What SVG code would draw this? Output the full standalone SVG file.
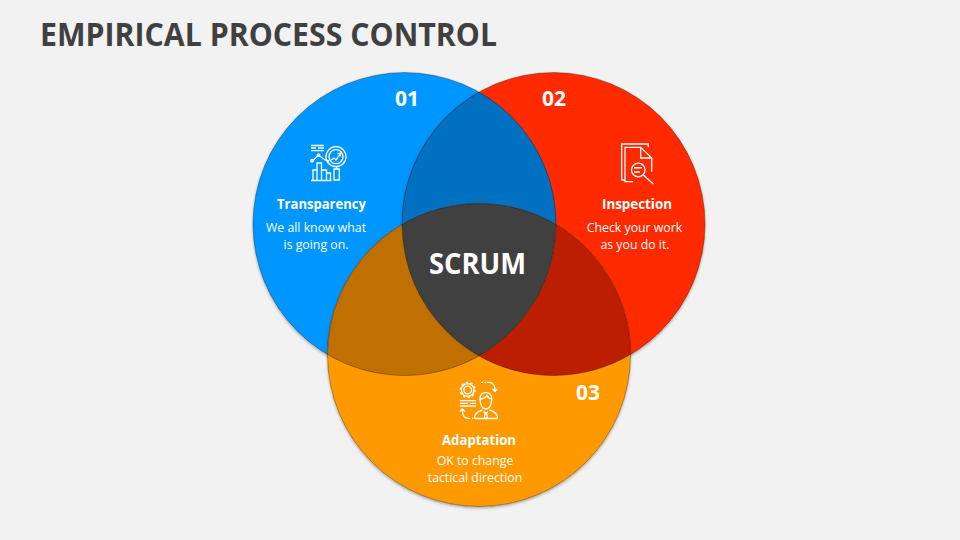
<svg xmlns="http://www.w3.org/2000/svg" width="960" height="540" viewBox="0 0 960 540">
<defs>
<filter id="sh" x="-5%" y="-5%" width="110%" height="110%"><feDropShadow dx="0" dy="1.5" stdDeviation="1.5" flood-color="#000" flood-opacity="0.35"/></filter>
</defs>
<style>
text{font-family:"Open Sans","Noto Sans",sans-serif;fill:#fff;text-anchor:middle}
.num{font-size:21px;font-weight:700}
.head{font-size:14px;font-weight:700}
.body{font-size:12.3px}
.ic{fill:none;stroke:#fff;stroke-width:1.3}
.edge{fill:none;stroke:#000;stroke-opacity:.3;stroke-width:1}
</style>
<rect width="960" height="540" fill="#f2f2f2"/>
<text x="40" y="46" style="font-size:32px;font-weight:700;fill:#404040;text-anchor:start" textLength="457" lengthAdjust="spacingAndGlyphs">EMPIRICAL PROCESS CONTROL</text>
<g id="circles">
<circle id="circle-blue" cx="404.5" cy="224" r="151.5" fill="#0096ff" filter="url(#sh)"/>
<circle id="circle-red" cx="553.5" cy="224" r="151.5" fill="#ff2a00" filter="url(#sh)"/>
<circle id="circle-orange" cx="479" cy="355" r="151.5" fill="#ff9900" filter="url(#sh)"/>
</g>
<g id="overlaps">
<path id="overlap-blue-red" d="M479 92.1A151.5 151.5 0 0 1 556 224.5A151.5 151.5 0 0 0 402 224.5A151.5 151.5 0 0 1 479 92.1Z" fill="#0070c0"/>
<path id="overlap-blue-orange" d="M402 224.5A151.5 151.5 0 0 0 479 355.9A151.5 151.5 0 0 1 327.5 354.5A151.5 151.5 0 0 1 402 224.5Z" fill="#bf7000"/>
<path id="overlap-red-orange" d="M556 224.5A151.5 151.5 0 0 1 630.5 354.5A151.5 151.5 0 0 1 479 355.9A151.5 151.5 0 0 0 556 224.5Z" fill="#bb1e00"/>
<path id="overlap-center" d="M402 224.5A151.5 151.5 0 0 1 556 224.5A151.5 151.5 0 0 1 479 355.9A151.5 151.5 0 0 1 402 224.5Z" fill="#404040"/>
<circle class="edge" cx="404.5" cy="224" r="151.5"/>
<circle class="edge" cx="553.5" cy="224" r="151.5"/>
<circle class="edge" cx="479" cy="355" r="151.5"/>
</g>
<g id="node-scrum"><text x="477.500" y="274" style="font-size:29px;font-weight:700" textLength="97" lengthAdjust="spacingAndGlyphs">SCRUM</text></g>
<g id="node-transparency">
<text class="num" x="407" y="105.500">01</text>
<g class="ic">
<path d="M311 145.500h13M311 148h5M318 148h6M311 150.700h13"/>
<path d="M313 160.500L318.500 155L325 160L329 161"/>
<circle cx="312" cy="160.700" r="1.200"/><circle cx="318.500" cy="155" r="1.200"/>
<circle cx="336" cy="156.700" r="10"/><circle cx="336" cy="156.700" r="7"/>
<path d="M331 160L334 158L336 160L340.500 153.500M337.500 153.500h3v3"/>
<path d="M313 180v-10h4v10M317 180v-17h4.500v17M321.500 180v-10h5v10M326.500 180v-7h4v7M311 180.500h20.500"/>
<path d="M336.500 167v2M334 169h5.300v11h-5.300z"/>
</g>
<text class="head" x="321.500" y="209" textLength="89" lengthAdjust="spacingAndGlyphs">Transparency</text>
<text class="body" x="316" y="232">We all know what</text>
<text class="body" x="316" y="249">is going on.</text>
</g>
<g id="node-inspection">
<text class="num" x="554" y="105.500">02</text>
<g class="ic">
<path d="M625 180H621.700V144H648.300V147.300"/>
<path d="M633 181.700H625V147.300H640.700L651.700 158V171.700M640.700 147.300V158H651.700"/>
<circle cx="638.300" cy="170" r="6.800"/>
<path d="M634 167.700h8M634 172h6" stroke-width="1.500"/>
<path d="M643.300 175L653.300 184"/>
</g>
<text class="head" x="637" y="209" textLength="70" lengthAdjust="spacingAndGlyphs">Inspection</text>
<text class="body" x="634.500" y="232">Check your work</text>
<text class="body" x="635" y="249">as you do it.</text>
</g>
<g id="node-adaptation">
<text class="num" x="588" y="400">03</text>
<g class="ic">
<circle cx="467.700" cy="390" r="3.800"/>
<circle cx="467.700" cy="390" r="6.300"/>
<circle cx="467.700" cy="390" r="7.300" stroke-width="1.800" stroke-dasharray="2.300 2.300"/>
<path d="M460 400.700h16M460 403.300h8M470 403.300h6M460 406h16"/>
<path d="M481 382.300h2M484.500 382.300h1.500M487 382.300h2C493 382.300 495 385.500 495 390.500M492.500 389L495 391.500L497.500 389"/>
<path d="M473.500 418.300h-1.500M470 418.300h-1C464.500 418.300 462.300 415 462.300 410M459.800 411.500L462.300 409L464.800 411.500"/>
<path d="M474.500 418.300c0-5 3-7 8-8.300M497.500 418.300c0-5-3-7-8-8.300M474.500 418.500h23"/>
<path d="M480 399c0-4 2-6.300 5.800-6.300s5.900 2.300 5.900 6.300c0 5.500-2.500 10-5.900 10s-5.800-4.500-5.800-10zM480 399c3 0 5.500-1.500 7-3.500c1 2 2.700 3.500 4.700 3.500"/>
<path d="M483.500 411.500l2.300 1.800l2.300-1.800M484.800 414h2l.5 4h-3z"/>
</g>
<text class="head" x="479" y="445" textLength="74" lengthAdjust="spacingAndGlyphs">Adaptation</text>
<text class="body" x="475" y="465">OK to change</text>
<text class="body" x="475" y="482">tactical direction</text>
</g>
</svg>
